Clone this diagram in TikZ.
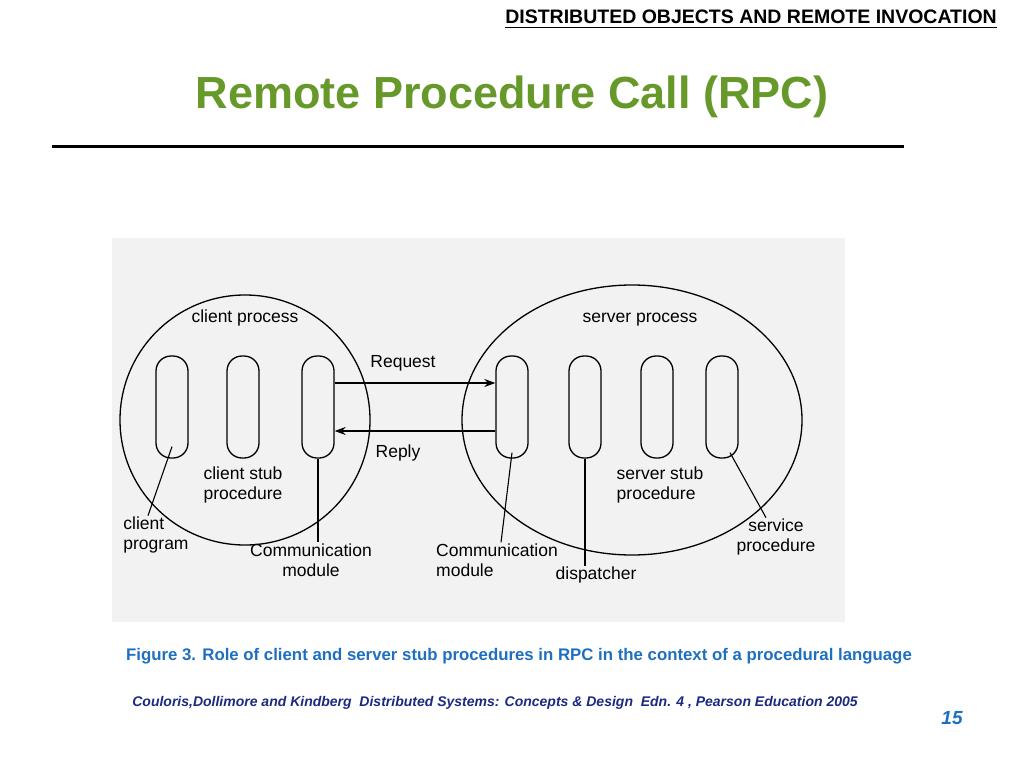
\documentclass[tikz,border=0pt]{standalone}
\usepackage{fontspec}
\setmainfont{Liberation Sans}
\usetikzlibrary{arrows.meta}
\definecolor{titlegreen}{HTML}{66992A}
\definecolor{capblue}{HTML}{1F6FC0}
\definecolor{citeblue}{HTML}{1A2A80}
\tikzset{
  capsule/.style={draw,line width=1.3pt,rounded corners=15pt,minimum width=32pt,minimum height=102pt,inner sep=0pt},
  lbl/.style={font=\fontsize{17.5}{20}\selectfont,align=left,inner sep=1pt},
  ptr/.style={line width=1.1pt},
  msg/.style={line width=1.5pt,-{Stealth[length=11pt,width=8pt]}}
}
\begin{document}
\begin{tikzpicture}[x=1pt,y=-1pt]
\useasboundingbox (0,0) rectangle (1024,768);
\node[font=\bfseries\fontsize{19.5}{20}\selectfont,anchor=east,inner sep=0pt] (hdr) at (997,17) {DISTRIBUTED OBJECTS AND REMOTE INVOCATION};
\draw[line width=1pt] (hdr.west |- 0,28) -- (hdr.east |- 0,28);
\node[font=\bfseries\fontsize{45}{50}\selectfont,text=titlegreen] (title) at (512,97) {Remote Procedure Call (RPC)};
\draw[line width=3pt] (52,146) -- (904,146);
\fill[black!5] (112,238) rectangle (845,622);
\draw[line width=1.3pt] (245,420) ellipse (125 and 125);
\draw[line width=1.3pt] (632,420) ellipse (170 and 135);
\node[capsule] (c1) at (172,407) {};
\node[capsule] (c2) at (243,407) {};
\node[capsule] (c3) at (318,407) {};
\node[capsule] (s1) at (512,407) {};
\node[capsule] (s2) at (585,407) {};
\node[capsule] (s3) at (657,407) {};
\node[capsule] (s4) at (722,407) {};
\draw[msg] ([yshift=24pt]c3.east) -- ([yshift=24pt]s1.west);
\draw[msg] ([yshift=-24pt]s1.west) -- ([yshift=-24pt]c3.east);
\node[lbl] (cp) at (245,318) {client process};
\node[lbl] (sp) at (640,320) {server process};
\node[lbl] (req) at (403,363) {Request};
\node[lbl] (rep) at (398,453) {Reply};
\node[lbl] (cs) at (243,485) {client stub\\procedure};
\node[lbl] (cpr) at (156,535) {client\\program};
\node[lbl,align=center] (cm1) at (311,560) {Communication\\module};
\node[lbl] (cm2) at (497,560) {Communication\\module};
\node[lbl] (dis) at (596,575) {dispatcher};
\node[lbl] (ss) at (660,485) {server stub\\procedure};
\node[lbl,align=center] (svc) at (776,537) {service\\procedure};
\draw[ptr] ([yshift=12pt]c1.south) -- ([xshift=-8pt]cpr.north);
\draw[ptr] (c3.south) -- (cm1.north -| c3.south);
\draw[ptr] ([yshift=6pt]s1.south) -- ([xshift=4pt]cm2.north);
\draw[ptr] (s2.south) -- (dis.north -| s2.south);
\draw[ptr] ([xshift=8pt,yshift=6pt]s4.south) -- ([xshift=-10pt]svc.north);
\node[font=\bfseries\fontsize{16.8}{18}\selectfont,text=capblue] (cap) at (519,656) {Figure 3. Role of client and server stub procedures in RPC in the context of a procedural language};
\node[font=\bfseries\itshape\fontsize{14}{16}\selectfont,text=citeblue] (cite) at (495,703) {Couloris,Dollimore and Kindberg\ \ Distributed Systems: Concepts \& Design\ \ Edn. 4 , Pearson Education 2005};
\node[font=\bfseries\itshape\fontsize{19}{20}\selectfont,text=capblue] (pg) at (952,718) {15};
\end{tikzpicture}
\end{document}
